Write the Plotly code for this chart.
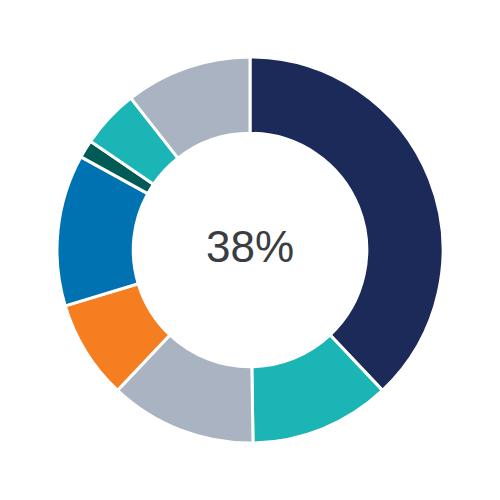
import plotly.graph_objects as go

labels = ['A', 'B', 'C', 'D', 'E', 'F', 'G', 'H']
values = [38.0, 11.8, 12.3, 8.3, 12.7, 1.5, 4.9, 10.6]
colors = ['#1c2a5a', '#1cb5b5', '#a9b3c1', '#f47e20',
          '#0072b1', '#005a55', '#1cb5b5', '#a9b3c1']
center_text = '38%'

fig = go.Figure(data=[go.Pie(labels=labels,
                             values=values,
                             hole=0.605,
                             sort=False,
                             direction='clockwise',
                             rotation=0,
                             textinfo='none',
                             hoverinfo='none',
                             marker=dict(colors=colors,
                                         line=dict(color='white', width=3)))])

fig.add_annotation(text=center_text, x=0.5, y=0.5, xref='paper', yref='paper',
                   showarrow=False, yshift=4,
                   font=dict(family='Liberation Sans, Arial', size=44, color='#3a3d42'))

# page offsets the plot by ~8px, so shift margins to keep the donut centred
fig.update_layout(width=500, height=500,
                  margin=dict(l=49, r=65, t=49, b=65),
                  showlegend=False,
                  paper_bgcolor='white',
                  plot_bgcolor='white')

fig.write_html('out.html')
